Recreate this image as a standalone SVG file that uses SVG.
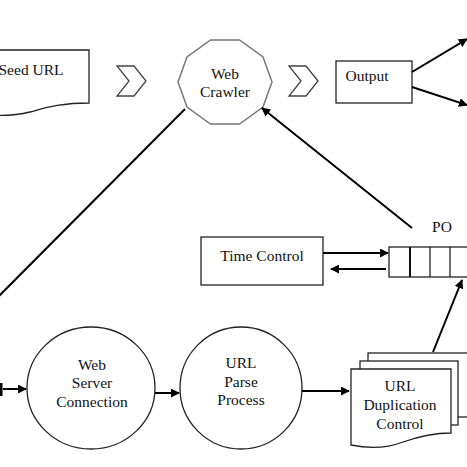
<svg xmlns="http://www.w3.org/2000/svg" width="467" height="467" viewBox="0 0 467 467">
<defs>
<style>
.sh{fill:#fff;stroke:#222;stroke-width:1.3}
.oct{fill:#fff;stroke:#777;stroke-width:1.5}
.chev{fill:#fff;stroke:#444;stroke-width:1.3}
.ln{fill:none;stroke:#000;stroke-width:2}
.t{font-family:"Liberation Serif","Times New Roman",serif;font-size:15.5px;fill:#111;text-anchor:middle}
</style>
<marker id="ah" viewBox="0 0 10 10" refX="9" refY="5" markerWidth="4.5" markerHeight="4.5" markerUnits="strokeWidth" orient="auto">
<path d="M0 0 L10 5 L0 10 Z" fill="#000"/>
</marker>
</defs>
<rect width="467" height="467" fill="#fff"/>

<g id="seed">
<path class="sh" d="M-10 50 L89 50 L89 103 C60 103 45 108 30 112 C18 115 5 116 -10 115 Z"/>
<text class="t" x="31" y="75">Seed URL</text>
</g>

<g id="chevron1">
<path class="chev" d="M117 66 L134 66 L146 81 L134 96 L117 96 L129 81 Z"/>
</g>

<g id="crawler">
<polygon class="oct" points="272,82 263,57 239.5,40 210.5,40 187,57 178,82 187,107 210.5,124 239.5,124 263,107"/>
<text class="t" x="225" y="79">Web</text>
<text class="t" x="225" y="97">Crawler</text>
</g>

<g id="chevron2">
<path class="chev" d="M289 66 L306 66 L318 81 L306 96 L289 96 L301 81 Z"/>
</g>

<g id="output">
<rect class="sh" x="336" y="61" width="76" height="42"/>
<text class="t" x="367" y="81">Output</text>
</g>

<g id="timecontrol">
<rect class="sh" x="201" y="237" width="122" height="48"/>
<text class="t" x="262" y="261">Time Control</text>
</g>

<g id="queue">
<text class="t" x="442" y="232">PO</text>
<rect class="sh" x="389" y="247" width="82" height="30"/>
<line x1="410" y1="247" x2="410" y2="277" stroke="#111" stroke-width="2"/>
<line x1="430" y1="247" x2="430" y2="277" stroke="#222" stroke-width="1.3"/>
<line x1="450" y1="247" x2="450" y2="277" stroke="#222" stroke-width="1.3"/>
</g>

<g id="webserver">
<ellipse class="sh" cx="91" cy="388" rx="64" ry="61"/>
<text class="t" x="92" y="370">Web</text>
<text class="t" x="92" y="388">Server</text>
<text class="t" x="92" y="407">Connection</text>
</g>

<g id="urlparse">
<ellipse class="sh" cx="241" cy="388" rx="61" ry="61"/>
<text class="t" x="241" y="368">URL</text>
<text class="t" x="241" y="387">Parse</text>
<text class="t" x="241" y="405">Process</text>
</g>

<g id="urldup">
<rect class="sh" x="368" y="353" width="110" height="64"/>
<rect class="sh" x="360" y="361" width="98" height="64"/>
<path class="sh" d="M351 369 L451 369 L451 433 C435 433 420 436 403 442 C385 449 365 448 351 445 Z"/>
<text class="t" x="400" y="391">URL</text>
<text class="t" x="400" y="410">Duplication</text>
<text class="t" x="400" y="429">Control</text>
</g>

<g id="connectors">
<line class="ln" x1="185" y1="109" x2="-2" y2="297"/>
<line x1="1" y1="383" x2="1" y2="396" stroke="#000" stroke-width="3"/>
<line class="ln" x1="3" y1="389" x2="26" y2="389" marker-end="url(#ah)"/>
<line class="ln" x1="155" y1="393" x2="179" y2="393" marker-end="url(#ah)"/>
<line class="ln" x1="302" y1="391" x2="349" y2="391" marker-end="url(#ah)"/>
<line class="ln" x1="433" y1="352" x2="462" y2="280" marker-end="url(#ah)"/>
<line class="ln" x1="323" y1="253" x2="388" y2="253" marker-end="url(#ah)"/>
<line class="ln" x1="386" y1="269" x2="331" y2="269" marker-end="url(#ah)"/>
<line class="ln" x1="412" y1="228" x2="262" y2="108" marker-end="url(#ah)"/>
<line class="ln" x1="412" y1="72" x2="467" y2="39" marker-end="url(#ah)"/>
<line class="ln" x1="412" y1="87" x2="467" y2="105" marker-end="url(#ah)"/>
</g>
</svg>
